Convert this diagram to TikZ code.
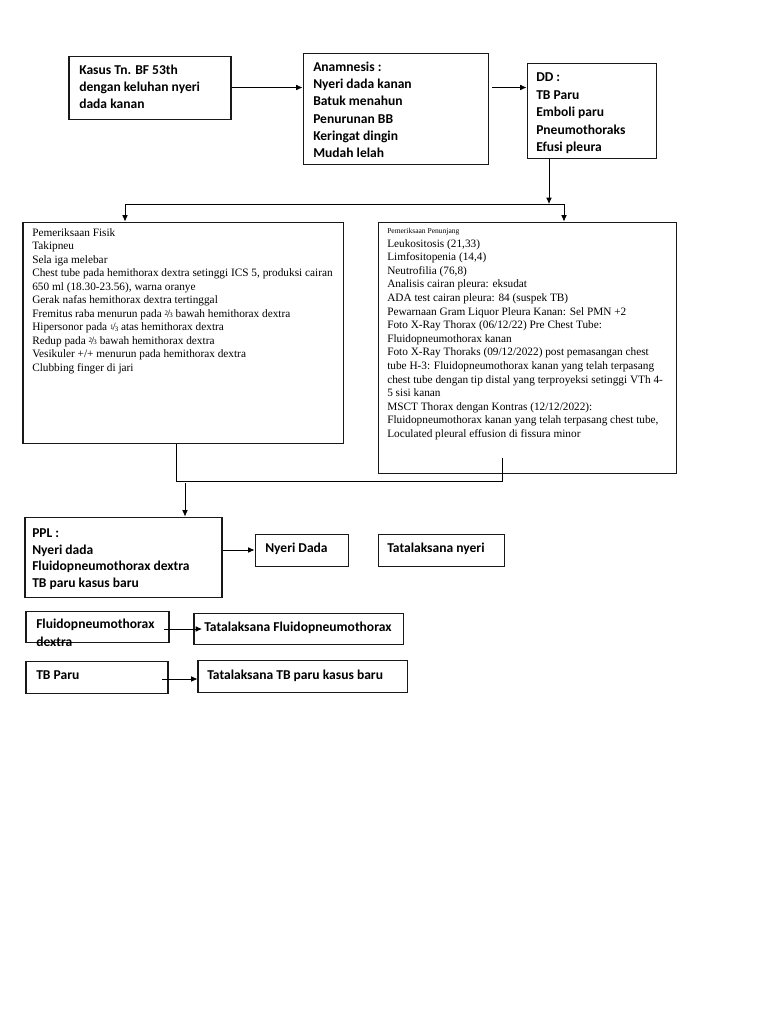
\documentclass[tikz,border=0pt]{standalone}
\usepackage{fontspec}
\setmainfont{Liberation Serif}
\newfontfamily\calfont{Carlito}
\usetikzlibrary{arrows.meta,fit,calc}
\newcommand\myfrac[2]{\raisebox{0.35ex}{\fontsize{5.5}{6}\selectfont #1}\kern-0.08em/\kern-0.08em\raisebox{-0.1ex}{\fontsize{5.5}{6}\selectfont #2}}
\newcommand\mlines[2]{\vtop{\baselineskip=#1\relax\lineskiplimit=-100pt\relax\halign{##\hfil\cr #2\crcr}}}
\begin{document}
\begin{tikzpicture}[x=0.797pt,y=-0.797pt,
  box/.style={draw=black!90, line width=0.8pt, inner sep=0pt},
  ctxt/.style={anchor=base west, inner sep=0pt, font=\calfont\bfseries\fontsize{10.8}{13}\selectfont},
  stxt/.style={anchor=base west, inner sep=0pt, font=\fontsize{9}{10.84}\selectfont},
  conn/.style={draw=black, line width=0.6pt},
  arr/.style={conn, -{Latex[length=5pt,width=4.5pt]}}]
\useasboundingbox[fill=white] (0,0) rectangle (768,1024);

% boxes
\node[box, fit={(69,56) (231,119)}] (kasus) {};
\node[box, fit={(303,53) (488,164)}] (anam) {};
\node[box, fit={(527,63) (656,158)}] (dd) {};
\node[box, fit={(23,222) (343,443)}] (fisik) {};
\node[box, fit={(378,222) (676,473)}] (pen) {};
\node[box, fit={(25,517) (222,597)}] (ppl) {};
\node[box, fit={(255,534) (348,566)}] (nyeri) {};
\node[box, fit={(378,534) (504,566)}] (tnyeri) {};
\node[box, fit={(26,611) (169,642)}] (fluido) {};
\node[box, fit={(194,613) (403,644)}] (tfluido) {};
\node[box, fit={(26,661) (168,693)}] (tb) {};
\node[box, fit={(198,660) (407,692)}] (ttb) {};

% texts
\node[ctxt] (kasusT) at (79,74.5) {\mlines{13.55pt}{Kasus Tn. BF 53th\cr dengan keluhan nyeri\cr dada kanan}};
\node[ctxt] (anamT) at (313,71.5) {\mlines{13.7pt}{Anamnesis :\cr Nyeri dada kanan\cr Batuk menahun\cr Penurunan BB\cr Keringat dingin\cr Mudah lelah}};
\node[ctxt] (ddT) at (536,81.5) {\mlines{13.95pt}{DD :\cr TB Paru\cr Emboli paru\cr Pneumothoraks\cr Efusi pleura}};
\node[stxt] (fisikT) at (32,236) {\mlines{10.8pt}{Pemeriksaan Fisik\cr Takipneu\cr Sela iga melebar\cr Chest tube pada hemithorax dextra setinggi ICS 5, produksi cairan\cr 650 ml (18.30-23.56), warna oranye\cr Gerak nafas hemithorax dextra tertinggal\cr Fremitus raba menurun pada \myfrac{2}{3} bawah hemithorax dextra\cr Hipersonor pada \myfrac{1}{3} atas hemithorax dextra\cr Redup pada \myfrac{2}{3} bawah hemithorax dextra\cr Vesikuler +/+ menurun pada hemithorax dextra\cr Clubbing finger di jari}};
\node[stxt] (penT) at (387,233.5) {\mlines{10.84pt}{{\fontsize{6}{7}\selectfont Pemeriksaan Penunjang}\cr Leukositosis (21,33)\cr Limfositopenia (14,4)\cr Neutrofilia (76,8)\cr Analisis cairan pleura: eksudat\cr ADA test cairan pleura: 84 (suspek TB)\cr Pewarnaan Gram Liquor Pleura Kanan: Sel PMN +2\cr Foto X-Ray Thorax (06/12/22) Pre Chest Tube:\cr Fluidopneumothorax kanan\cr Foto X-Ray Thoraks (09/12/2022) post pemasangan chest\cr tube H-3: Fluidopneumothorax kanan yang telah terpasang\cr chest tube dengan tip distal yang terproyeksi setinggi VTh 4-\cr 5 sisi kanan\cr MSCT Thorax dengan Kontras (12/12/2022):\cr Fluidopneumothorax kanan yang telah terpasang chest tube,\cr Loculated pleural effusion di fissura minor}};
\node[ctxt] (pplT) at (32,537.5) {\mlines{13.3pt}{PPL :\cr Nyeri dada\cr Fluidopneumothorax dextra\cr TB paru kasus baru}};
\node[ctxt] (nyeriT) at (265,552) {Nyeri Dada};
\node[ctxt] (tnyeriT) at (387,552) {Tatalaksana nyeri};
\node[ctxt] (fluidoT) at (36,628.5) {\mlines{14.3pt}{Fluidopneumothorax\cr dextra}};
\node[ctxt] (tfluidoT) at (204,631) {Tatalaksana Fluidopneumothorax};
\node[ctxt] (tbT) at (36,679) {TB Paru};
\node[ctxt] (ttbT) at (207,679) {Tatalaksana TB paru kasus baru};

% connectors
\draw[arr] (kasus.east) -- (anam.west |- kasus.east);
\draw[arr] ([xshift=3pt]anam.east |- kasus.east) -- (dd.west |- kasus.east);
\coordinate (j) at (549,204);
\draw[arr] (j |- dd.south) -- (j);
\coordinate (hl) at (125,204);
\coordinate (hr) at (564,204);
\draw[conn] (hl) -- (hr);
\draw[arr] (hl) -- (hl |- fisik.north);
\draw[arr] (hr) -- (hr |- pen.north);
\coordinate (b1) at (176,481);
\coordinate (b2) at (502,458);
\draw[conn] (b1 |- fisik.south) -- (b1) -| (b2);
\coordinate (b3) at (185,483);
\draw[arr] (b3) -- (b3 |- ppl.north);
\draw[arr] (ppl.east |- nyeri.west) -- (nyeri.west);
\coordinate (f1) at (164,629);
\coordinate (f2) at (202,629);
\draw[arr] (f1) -- (f2);
\coordinate (g1) at (162,679);
\draw[arr] (g1) -- (ttb.west |- g1);
\end{tikzpicture}
\end{document}
